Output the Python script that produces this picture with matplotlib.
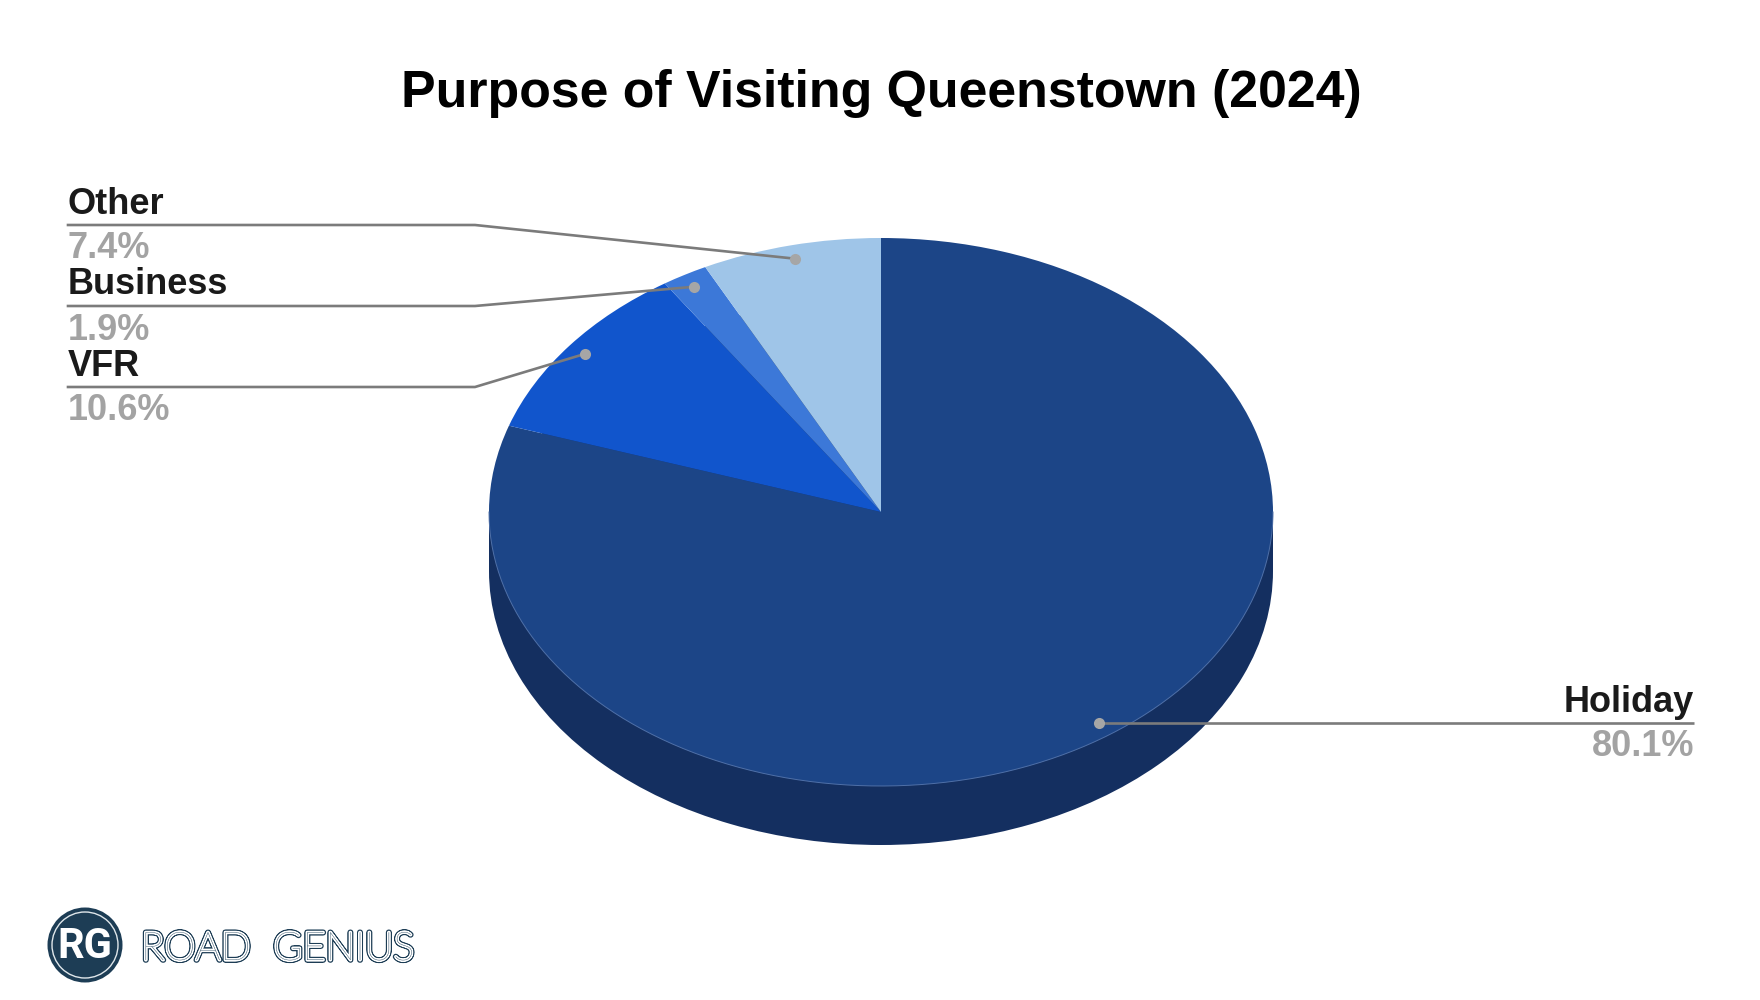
# -*- coding: utf-8 -*-
import numpy as np
import matplotlib
matplotlib.use("Agg")
import matplotlib.pyplot as plt
import matplotlib.patheffects as pe
from matplotlib.patches import Circle

plt.rcParams['font.family'] = ['Liberation Sans', 'DejaVu Sans']

labels = ["Holiday", "VFR", "Business", "Other"]
values = [80.1, 10.6, 1.9, 7.4]
colors = ["#1c4587", "#1155cc", "#3c78d8", "#9fc5e8"]
side_color = "#142f60"

W, H = 1760, 1000
# pie geometry in pixels
cx, cy, rx, ry, depth = 881, 512, 392, 274, 59

fig = plt.figure(figsize=(W/100, H/100), dpi=100, facecolor="white")

# pie axes: one data unit is rx across and ry up, so the pie comes out flat
ax = fig.add_axes([0, 0, 1, 1])
d = depth / ry
ax.pie([100], colors=[side_color], center=(0, -d), radius=1, startangle=90)
ax.fill_between([-1, 1], [-d, -d], [0, 0], color=side_color, lw=0)
ax.pie(values, colors=colors, startangle=90, counterclock=False, radius=1,
       wedgeprops={"linewidth": 0})
t = np.linspace(np.pi, 2*np.pi, 200)
ax.plot(np.cos(t), np.sin(t), color="#4f70a8", lw=0.7)
ax.set_aspect("auto")
ax.set_xlim((0 - cx)/rx, (W - cx)/rx)
ax.set_ylim((cy - H)/ry, cy/ry)
ax.axis("off")

# overlay in pixel coordinates for title, leaders and logo
ov = fig.add_axes([0, 0, 1, 1], facecolor="none")
ov.set_xlim(0, W)
ov.set_ylim(H, 0)
ov.axis("off")

ov.text(881, 107, "Purpose of Visiting Queenstown (2024)", fontsize=37.4,
        fontweight="bold", color="black", ha="center", va="baseline")

line_col = "#7b7b7b"
dot_col = "#a6a6a6"
name_col = "#1a1a1a"
pct_col = "#a3a3a3"

# leader line height, text side
leader_y = {"Other": 225, "Business": 306, "VFR": 387, "Holiday": 723}

cum = 0
for name, v in zip(labels, values):
    mid = (cum + v/2) / 100 * 2*np.pi
    cum += v
    dx = cx + 0.95*rx*np.sin(mid)
    dy = cy - 0.95*ry*np.cos(mid)
    y = leader_y[name]
    if name == "Holiday":
        ov.plot([dx, 1694], [y, y], color=line_col, lw=1.9, solid_capstyle="butt")
        tx, ha = 1694, "right"
    else:
        ov.plot([68, 475, dx], [y, y, dy], color=line_col, lw=1.9, solid_joinstyle="round")
        tx, ha = 67.5, "left"
    ov.plot([dx], [dy], "o", color=dot_col, ms=8, mew=0)
    ov.text(tx, y - 11.5, name, fontsize=26, fontweight="bold", color=name_col,
            ha=ha, va="baseline")
    ov.text(tx, y + 33.5, "%.1f%%" % v, fontsize=26, fontweight="bold", color=pct_col,
            ha=ha, va="baseline")

# logo
navy = "#1d3d55"
ov.add_patch(Circle((85, 945), 37.5, fc=navy, ec="none"))
ov.add_patch(Circle((85, 945), 33, fc="none", ec="#dfe6ea", lw=1))
ov.text(85, 946, "RG", fontsize=30, fontweight="bold", color="white",
        ha="center", va="center", family=["Roboto", "DejaVu Sans"])
ov.text(141, 960, "ROAD  GENIUS", fontsize=28.5, color=navy, ha="left", va="baseline",
        family=["Lato", "DejaVu Sans"], fontweight="light",
        path_effects=[pe.Stroke(linewidth=4, foreground=navy),
                      pe.Stroke(linewidth=2.2, foreground="white"),
                      pe.Normal()])

fig.savefig("out.png", dpi=100, facecolor="white")
